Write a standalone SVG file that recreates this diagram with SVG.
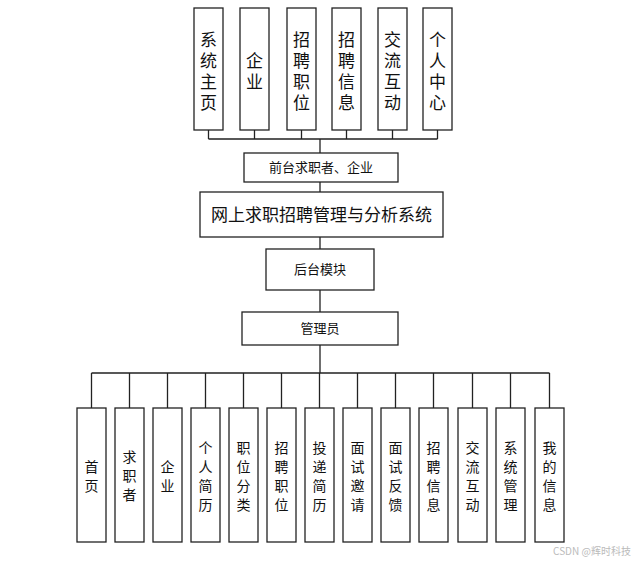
<svg xmlns="http://www.w3.org/2000/svg" width="642" height="562" viewBox="0 0 642 562">
<style>
rect{fill:#fff;stroke:#222;stroke-width:1.3}
.c{stroke:#222;stroke-width:1.3;fill:none}
text{font-family:"Noto Sans CJK SC","Liberation Sans",sans-serif;fill:#111;text-anchor:middle}
.t{font-size:17px}
.b{font-size:14px}
.m{font-size:13px}
</style>
<rect x="0" y="0" width="642" height="562" style="fill:#fff;stroke:none"/>
<g id="connectors">
<path class="c" d="M208.5 130V139M254.5 130V139M301.5 130V139M346.5 130V139M392.5 130V139M437.5 130V139M208.5 139H437.5M320 139V153M320 182V192M320 237V249M320 290V312M320 345V373M91.5 373H549.5"/>
<path class="c" d="M91.5 373V408M129.5 373V408M167.5 373V408M205.5 373V408M243.5 373V408M281.5 373V408M319.5 373V408M357.5 373V408M395.5 373V408M433.5 373V408M472.5 373V408M510.5 373V408M549.5 373V408"/>
</g>
<g id="top1"><rect x="194" y="8" width="29" height="122"/><text class="t" x="208.5"><tspan x="208.5" y="46">系</tspan><tspan x="208.5" y="67">统</tspan><tspan x="208.5" y="88">主</tspan><tspan x="208.5" y="109">页</tspan></text></g>
<g id="top2"><rect x="240" y="8" width="29" height="122"/><text class="t"><tspan x="254.5" y="67">企</tspan><tspan x="254.5" y="88">业</tspan></text></g>
<g id="top3"><rect x="287" y="8" width="29" height="122"/><text class="t"><tspan x="301.5" y="46">招</tspan><tspan x="301.5" y="67">聘</tspan><tspan x="301.5" y="88">职</tspan><tspan x="301.5" y="109">位</tspan></text></g>
<g id="top4"><rect x="332" y="8" width="29" height="122"/><text class="t"><tspan x="346.5" y="46">招</tspan><tspan x="346.5" y="67">聘</tspan><tspan x="346.5" y="88">信</tspan><tspan x="346.5" y="109">息</tspan></text></g>
<g id="top5"><rect x="378" y="8" width="29" height="122"/><text class="t"><tspan x="392.5" y="46">交</tspan><tspan x="392.5" y="67">流</tspan><tspan x="392.5" y="88">互</tspan><tspan x="392.5" y="109">动</tspan></text></g>
<g id="top6"><rect x="423" y="8" width="29" height="122"/><text class="t"><tspan x="437.5" y="46">个</tspan><tspan x="437.5" y="67">人</tspan><tspan x="437.5" y="88">中</tspan><tspan x="437.5" y="109">心</tspan></text></g>
<g id="front"><rect x="244" y="153" width="154" height="29"/><text class="m" x="321" y="172">前台求职者、企业</text></g>
<g id="main"><rect x="200" y="192" width="243" height="45"/><text x="321.5" y="221" style="font-size:17px">网上求职招聘管理与分析系统</text></g>
<g id="back"><rect x="266" y="249" width="108" height="41"/><text class="m" x="320" y="274">后台模块</text></g>
<g id="admin"><rect x="242" y="312" width="156" height="33"/><text class="m" x="320" y="333">管理员</text></g>
<g id="b1"><rect x="77" y="408" width="29" height="134"/><text class="b"><tspan x="91.5" y="472">首</tspan><tspan x="91.5" y="491">页</tspan></text></g>
<g id="b2"><rect x="115" y="408" width="29" height="134"/><text class="b"><tspan x="129.5" y="462">求</tspan><tspan x="129.5" y="481">职</tspan><tspan x="129.5" y="500">者</tspan></text></g>
<g id="b3"><rect x="153" y="408" width="29" height="134"/><text class="b"><tspan x="167.5" y="472">企</tspan><tspan x="167.5" y="491">业</tspan></text></g>
<g id="b4"><rect x="191" y="408" width="29" height="134"/><text class="b"><tspan x="205.5" y="453">个</tspan><tspan x="205.5" y="472">人</tspan><tspan x="205.5" y="491">简</tspan><tspan x="205.5" y="510">历</tspan></text></g>
<g id="b5"><rect x="229" y="408" width="29" height="134"/><text class="b"><tspan x="243.5" y="453">职</tspan><tspan x="243.5" y="472">位</tspan><tspan x="243.5" y="491">分</tspan><tspan x="243.5" y="510">类</tspan></text></g>
<g id="b6"><rect x="267" y="408" width="29" height="134"/><text class="b"><tspan x="281.5" y="453">招</tspan><tspan x="281.5" y="472">聘</tspan><tspan x="281.5" y="491">职</tspan><tspan x="281.5" y="510">位</tspan></text></g>
<g id="b7"><rect x="305" y="408" width="29" height="134"/><text class="b"><tspan x="319.5" y="453">投</tspan><tspan x="319.5" y="472">递</tspan><tspan x="319.5" y="491">简</tspan><tspan x="319.5" y="510">历</tspan></text></g>
<g id="b8"><rect x="343" y="408" width="29" height="134"/><text class="b"><tspan x="357.5" y="453">面</tspan><tspan x="357.5" y="472">试</tspan><tspan x="357.5" y="491">邀</tspan><tspan x="357.5" y="510">请</tspan></text></g>
<g id="b9"><rect x="381" y="408" width="29" height="134"/><text class="b"><tspan x="395.5" y="453">面</tspan><tspan x="395.5" y="472">试</tspan><tspan x="395.5" y="491">反</tspan><tspan x="395.5" y="510">馈</tspan></text></g>
<g id="b10"><rect x="419" y="408" width="29" height="134"/><text class="b"><tspan x="433.5" y="453">招</tspan><tspan x="433.5" y="472">聘</tspan><tspan x="433.5" y="491">信</tspan><tspan x="433.5" y="510">息</tspan></text></g>
<g id="b11"><rect x="458" y="408" width="29" height="134"/><text class="b"><tspan x="472.5" y="453">交</tspan><tspan x="472.5" y="472">流</tspan><tspan x="472.5" y="491">互</tspan><tspan x="472.5" y="510">动</tspan></text></g>
<g id="b12"><rect x="496" y="408" width="29" height="134"/><text class="b"><tspan x="510.5" y="453">系</tspan><tspan x="510.5" y="472">统</tspan><tspan x="510.5" y="491">管</tspan><tspan x="510.5" y="510">理</tspan></text></g>
<g id="b13"><rect x="535" y="408" width="29" height="134"/><text class="b"><tspan x="549.5" y="453">我</tspan><tspan x="549.5" y="472">的</tspan><tspan x="549.5" y="491">信</tspan><tspan x="549.5" y="510">息</tspan></text></g>
<text x="592" y="555" style="font-size:10px;fill:#bbb">CSDN @辉时科技</text>
</svg>
